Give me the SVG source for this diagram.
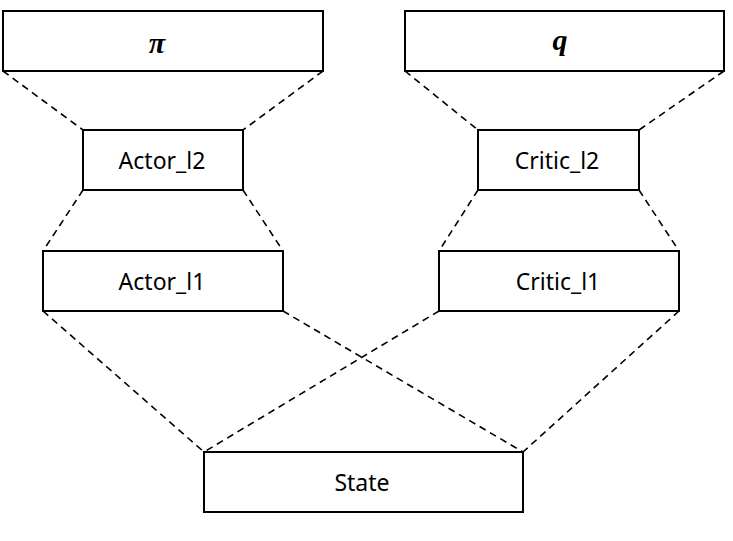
<svg xmlns="http://www.w3.org/2000/svg" width="733" height="541" viewBox="0 0 733 541">
<style>
.box{fill:#fff;stroke:#000;stroke-width:2}
.lbl{font-family:"Noto Sans","Liberation Sans",sans-serif;font-size:23px;fill:#000;text-anchor:middle}
.math{font-family:"Liberation Serif",serif;font-style:italic;font-weight:bold;font-size:30px;fill:#000;text-anchor:middle}
.dash{stroke:#000;stroke-width:1.6;stroke-dasharray:7 5;fill:none}
</style>
<rect width="733" height="541" fill="#fff"/>
<g id="connectors">
<line class="dash" x1="3" y1="71" x2="83" y2="130"/>
<line class="dash" x1="323" y1="71" x2="243" y2="130"/>
<line class="dash" x1="405" y1="71" x2="478" y2="130"/>
<line class="dash" x1="724" y1="71" x2="639" y2="130"/>
<line class="dash" x1="83" y1="190" x2="43" y2="251"/>
<line class="dash" x1="243" y1="190" x2="283" y2="251"/>
<line class="dash" x1="478" y1="190" x2="439" y2="251"/>
<line class="dash" x1="639" y1="190" x2="679" y2="251"/>
<line class="dash" x1="43" y1="311" x2="204" y2="452"/>
<line class="dash" x1="283" y1="311" x2="523" y2="452"/>
<line class="dash" x1="439" y1="311" x2="204" y2="452"/>
<line class="dash" x1="679" y1="311" x2="523" y2="452"/>
</g>
<g id="pi"><rect class="box" x="3" y="11" width="320" height="60"/><text class="math" x="157" y="53">π</text></g>
<g id="q"><rect class="box" x="405" y="11" width="319" height="60"/><text class="math" x="560" y="50">q</text></g>
<g id="actor_l2"><rect class="box" x="83" y="130" width="160" height="60"/><text class="lbl" x="162" y="169">Actor_l2</text></g>
<g id="critic_l2"><rect class="box" x="478" y="130" width="161" height="60"/><text class="lbl" x="557" y="169">Critic_l2</text></g>
<g id="actor_l1"><rect class="box" x="43" y="251" width="240" height="60"/><text class="lbl" x="162" y="290">Actor_l1</text></g>
<g id="critic_l1"><rect class="box" x="439" y="251" width="240" height="60"/><text class="lbl" x="558" y="290">Critic_l1</text></g>
<g id="state"><rect class="box" x="204" y="452" width="319" height="60"/><text class="lbl" x="362" y="491">State</text></g>
</svg>
